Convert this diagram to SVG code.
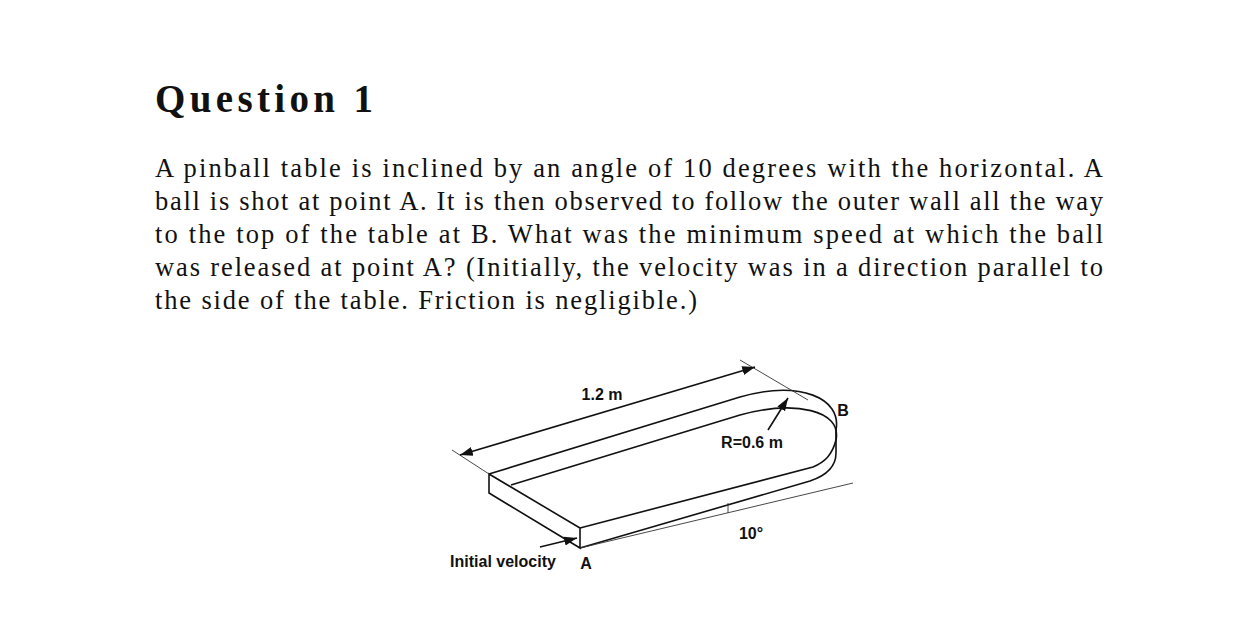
<svg xmlns="http://www.w3.org/2000/svg" width="1233" height="641" viewBox="0 0 1233 641">
<style>
.p{font-family:"Liberation Serif",serif;font-size:26.5px;fill:#111}
.l{font-family:"Liberation Sans",Arial,sans-serif;font-size:16px;font-weight:bold;fill:#111}
.s{fill:none;stroke:#111;stroke-width:1.6}
.t{fill:none;stroke:#333;stroke-width:0.9}
</style>
<defs><marker id="ah" viewBox="0 0 10 10" refX="10" refY="5" markerWidth="8" markerHeight="8" orient="auto-start-reverse"><path d="M0,1.5L10,5L0,8.5z" fill="#111"/></marker></defs>
<rect width="1233" height="641" fill="#fff"/>
<g id="title"><text x="155" y="112" textLength="218" lengthAdjust="spacing" style="font-family:'Liberation Serif',serif;font-size:39px;font-weight:bold;fill:#111">Question 1</text></g>
<g id="body">
<text class="p" x="155" y="177" textLength="948" lengthAdjust="spacing">A pinball table is inclined by an angle of 10 degrees with the horizontal.  A</text>
<text class="p" x="155" y="210" textLength="948" lengthAdjust="spacing">ball is shot at point A. It is then observed to follow the outer wall all the way</text>
<text class="p" x="155" y="243" textLength="948" lengthAdjust="spacing">to the top of the table at B. What was the minimum speed at which the ball</text>
<text class="p" x="155" y="276" textLength="948" lengthAdjust="spacing">was released at point A? (Initially, the velocity was in a direction parallel to</text>
<text class="p" x="155" y="309" textLength="542" lengthAdjust="spacing">the side of the table.  Friction is negligible.)</text>
</g>
<g id="table">
<path class="s" d="M489,474 L489,493 L580,548 L580,528 Z"/>
<path class="s" d="M489,474 L740,397 C800,380 842,398 836,430 L836,453"/>
<path class="s" d="M511,485 L740,415 C795,400 842,410 836,440 C832,455 825,462 813,467 L580,528"/>
<path class="s" d="M580,548 L810,481 C828,475 836,465 836,453"/>
</g>
<g id="connectors">
<path class="t" d="M452,450 L489,474 M740,360 L808,400"/>
<path class="s" stroke-width="1" d="M460,455 L755,367" marker-start="url(#ah)" marker-end="url(#ah)"/>
<path class="s" stroke-width="1" d="M768,430 L788,398" marker-end="url(#ah)"/>
<path class="s" stroke-width="1" d="M540,547 L577,538" marker-end="url(#ah)"/>
<path class="t" d="M580,548 L853,483 M728,503 L728,513"/>
</g>
<g id="labels">
<text class="l" x="602" y="400" text-anchor="middle">1.2 m</text>
<text class="l" x="843" y="416" text-anchor="middle">B</text>
<text class="l" x="752" y="448" text-anchor="middle">R=0.6 m</text>
<text class="l" x="751" y="539" text-anchor="middle">10°</text>
<text class="l" x="503" y="567" text-anchor="middle">Initial velocity</text>
<text class="l" x="586" y="569" text-anchor="middle">A</text>
</g>
</svg>
